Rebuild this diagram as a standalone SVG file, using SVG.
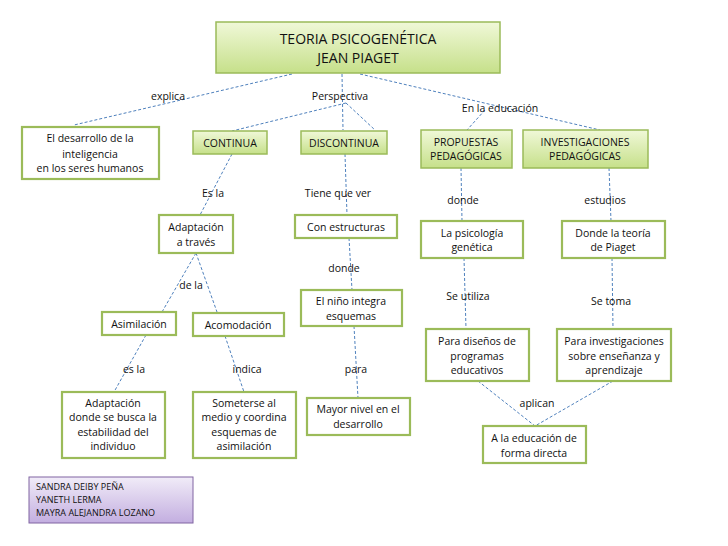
<svg xmlns="http://www.w3.org/2000/svg" width="728" height="546" viewBox="0 0 728 546">
<defs>
<linearGradient id="g" x1="0" y1="0" x2="0" y2="1"><stop offset="0" stop-color="#f0f8d8"/><stop offset="1" stop-color="#c6e08a"/></linearGradient>
<linearGradient id="p" x1="0" y1="0" x2="0" y2="1"><stop offset="0" stop-color="#f1ecf8"/><stop offset="1" stop-color="#c3aee0"/></linearGradient>
</defs>
<style>
text{font-family:"Open Sans","Liberation Sans",sans-serif;font-size:10.5px;fill:#111;text-anchor:middle}
.b{fill:#fff;stroke:#9bbb59;stroke-width:2.2}
.gb{fill:url(#g);stroke:#9bbb59;stroke-width:1.5}
#conn line{stroke:#4f81bd;stroke-width:1;stroke-dasharray:3,2}
</style>
<rect width="728" height="546" fill="#fff"/>
<g id="conn">
<line x1="292" y1="74" x2="74" y2="125"/>
<line x1="342" y1="74" x2="343" y2="130"/>
<line x1="346" y1="103" x2="232" y2="131"/>
<line x1="346" y1="103" x2="375" y2="130"/>
<line x1="360" y1="74" x2="600" y2="130"/>
<line x1="485" y1="110" x2="467" y2="130"/>
<line x1="232" y1="154" x2="200" y2="215"/>
<line x1="345" y1="154" x2="347" y2="215"/>
<line x1="349" y1="238" x2="352" y2="290"/>
<line x1="196" y1="253" x2="162" y2="312"/>
<line x1="196" y1="253" x2="217" y2="312"/>
<line x1="146" y1="335" x2="114" y2="392"/>
<line x1="225" y1="336" x2="244" y2="392"/>
<line x1="354" y1="326" x2="358" y2="398"/>
<line x1="461" y1="168" x2="462" y2="221"/>
<line x1="609" y1="168" x2="611" y2="221"/>
<line x1="464" y1="258" x2="466" y2="329"/>
<line x1="612" y1="258" x2="613" y2="329"/>
<line x1="478" y1="381" x2="535" y2="426"/>
<line x1="613" y1="381" x2="535" y2="426"/>
</g>
<g id="labels">
<text x="168" y="100">explica</text>
<text x="340" y="100">Perspectiva</text>
<text x="500" y="112">En la educación</text>
<text x="213" y="197">Es la</text>
<text x="338" y="197">Tiene que ver</text>
<text x="344" y="272">donde</text>
<text x="191" y="289">de la</text>
<text x="134" y="373">es la</text>
<text x="247" y="373">indica</text>
<text x="356" y="373">para</text>
<text x="463" y="204">donde</text>
<text x="605" y="204">estudios</text>
<text x="468" y="300">Se utiliza</text>
<text x="611" y="305">Se toma</text>
<text x="537" y="407">aplican</text>
</g>
<g id="title"><rect class="gb" x="216" y="22" width="284" height="51"/><text x="358" y="44" style="font-size:14px">TEORIA PSICOGENÉTICA</text><text x="358" y="63" style="font-size:14px">JEAN PIAGET</text></g>
<g id="n1"><rect class="b" x="22" y="127" width="137" height="52"/><text x="90" y="142">El desarrollo de la</text><text x="90" y="158">inteligencia</text><text x="90" y="172">en los seres humanos</text></g>
<g id="n2"><rect class="gb" x="193" y="131" width="74" height="23"/><text x="230" y="147">CONTINUA</text></g>
<g id="n3"><rect class="gb" x="301" y="131" width="86" height="23"/><text x="344" y="147">DISCONTINUA</text></g>
<g id="n4"><rect class="gb" x="421" y="130" width="91" height="38"/><text x="466" y="146">PROPUESTAS</text><text x="466" y="160">PEDAGÓGICAS</text></g>
<g id="n5"><rect class="gb" x="523" y="130" width="125" height="38"/><text x="585" y="146">INVESTIGACIONES</text><text x="585" y="160">PEDAGÓGICAS</text></g>
<g id="n6"><rect class="b" x="159" y="215" width="74" height="38"/><text x="196" y="231">Adaptación</text><text x="196" y="246">a través</text></g>
<g id="n7"><rect class="b" x="295" y="215" width="102" height="23"/><text x="346" y="231">Con estructuras</text></g>
<g id="n8"><rect class="b" x="421" y="221" width="102" height="37"/><text x="472" y="237">La psicología</text><text x="472" y="251">genética</text></g>
<g id="n9"><rect class="b" x="562" y="221" width="103" height="37"/><text x="613" y="237">Donde la teoría</text><text x="613" y="251">de Piaget</text></g>
<g id="n10"><rect class="b" x="102" y="312" width="74" height="23"/><text x="139" y="328">Asimilación</text></g>
<g id="n11"><rect class="b" x="193" y="313" width="91" height="23"/><text x="238" y="329">Acomodación</text></g>
<g id="n12"><rect class="b" x="301" y="290" width="101" height="36"/><text x="351" y="305">El niño integra</text><text x="351" y="320">esquemas</text></g>
<g id="n13"><rect class="b" x="426" y="329" width="103" height="52"/><text x="477" y="345">Para diseños de</text><text x="477" y="360">programas</text><text x="477" y="374">educativos</text></g>
<g id="n14"><rect class="b" x="557" y="329" width="114" height="52"/><text x="614" y="345">Para investigaciones</text><text x="614" y="360">sobre enseñanza y</text><text x="614" y="374">aprendizaje</text></g>
<g id="n15"><rect class="b" x="62" y="392" width="103" height="66"/><text x="113" y="407">Adaptación</text><text x="113" y="421">donde se busca la</text><text x="113" y="436">estabilidad del</text><text x="113" y="450">individuo</text></g>
<g id="n16"><rect class="b" x="193" y="392" width="103" height="66"/><text x="244" y="407">Someterse al</text><text x="244" y="421">medio y coordina</text><text x="244" y="436">esquemas de</text><text x="244" y="450">asimilación</text></g>
<g id="n17"><rect class="b" x="307" y="398" width="103" height="37"/><text x="358" y="413">Mayor nivel en el</text><text x="358" y="428">desarrollo</text></g>
<g id="n18"><rect class="b" x="483" y="426" width="103" height="37"/><text x="534" y="442">A la educación de</text><text x="534" y="457">forma directa</text></g>
<g id="names"><rect x="29" y="477" width="164" height="46" fill="url(#p)" stroke="#8064a2" stroke-width="1"/><text x="36" y="490" style="text-anchor:start;font-size:9px">SANDRA DEIBY  PEÑA</text><text x="36" y="503" style="text-anchor:start;font-size:9px">YANETH LERMA</text><text x="36" y="516" style="text-anchor:start;font-size:9px">MAYRA ALEJANDRA LOZANO</text></g>
</svg>
